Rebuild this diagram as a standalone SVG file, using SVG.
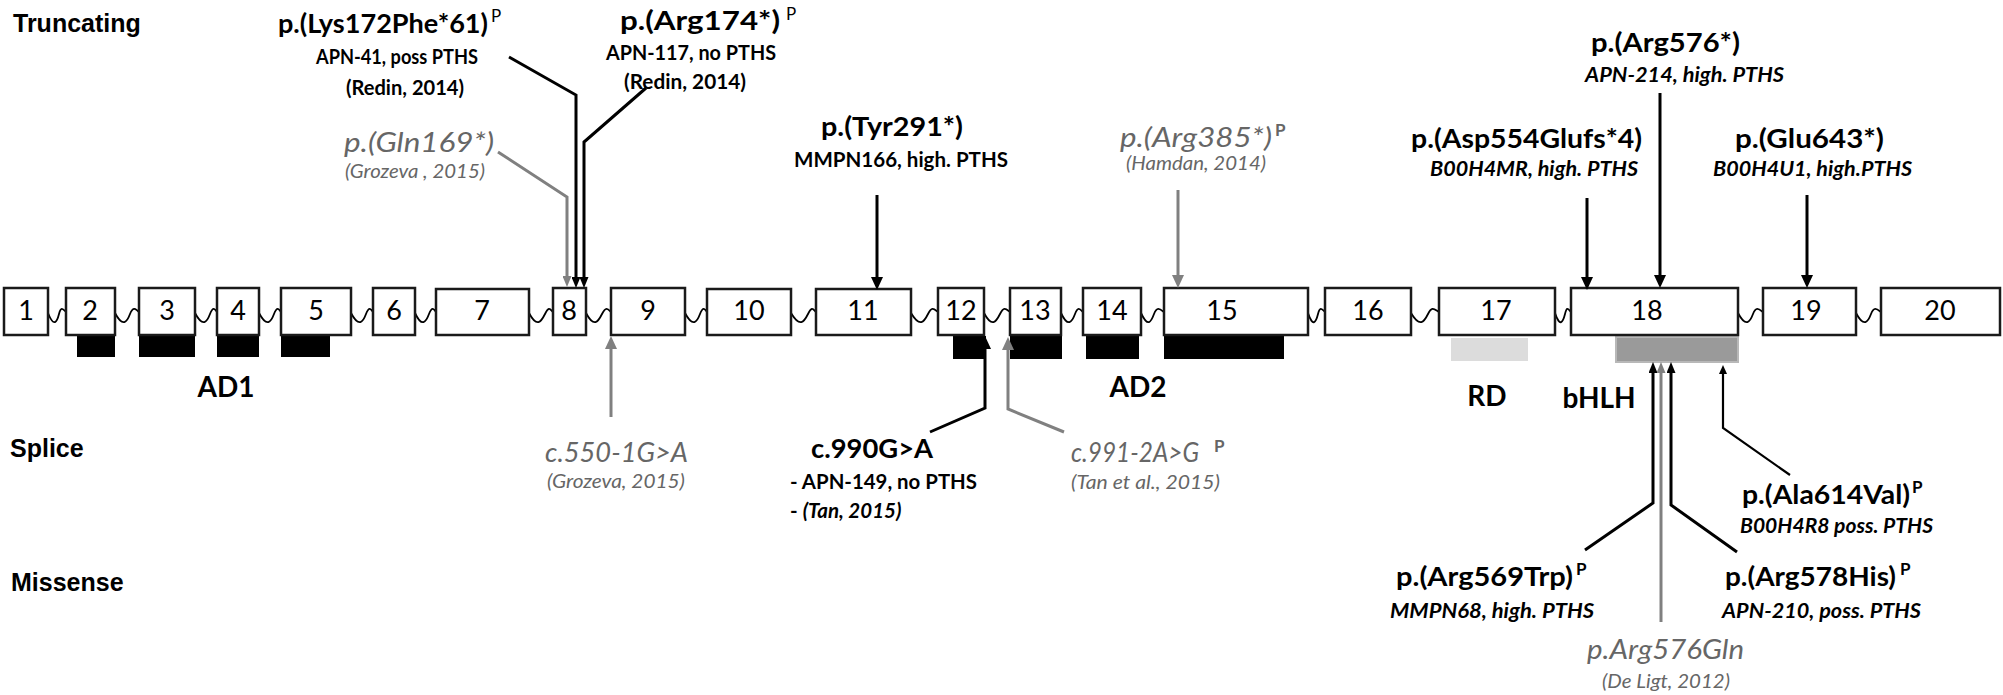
<svg xmlns="http://www.w3.org/2000/svg" width="2003" height="695" viewBox="0 0 2003 695">
<defs>
<style>
.sec{font-family:"Liberation Sans",Arial,sans-serif;font-weight:700;font-size:25px;fill:#000}
.t{font-family:Lato,"Open Sans",sans-serif;font-weight:700;font-size:27px;fill:#000}
.s{font-family:Lato,"Open Sans",sans-serif;font-weight:700;font-size:20.5px;fill:#000}
.si{font-family:Lato,"Open Sans",sans-serif;font-weight:700;font-style:italic;font-size:20.5px;fill:#000}
.g{font-family:Lato,"Open Sans",sans-serif;font-weight:400;font-style:italic;font-size:27px;fill:#666}
.gc{font-family:Lato,"Open Sans",sans-serif;font-weight:400;font-style:italic;font-size:19px;fill:#666}
.sup{font-family:Lato,"Open Sans",sans-serif;font-weight:400;font-size:17px;fill:#000}
.supb{font-family:Lato,"Open Sans",sans-serif;font-weight:700;font-size:17px;fill:#000}
.supg{font-family:Lato,"Open Sans",sans-serif;font-weight:700;font-size:17px;fill:#666}
.num{font-family:Lato,"Open Sans",sans-serif;font-weight:400;font-size:27px;fill:#000;text-anchor:middle}
.dom{font-family:Lato,"Open Sans",sans-serif;font-weight:700;font-size:28px;fill:#000;text-anchor:middle}
.ex{fill:#fff;stroke:#1a1a1a;stroke-width:2.5}
.intr{fill:none;stroke:#000;stroke-width:1.8}
.cb{fill:none;stroke:#000;stroke-width:3}
.ct{fill:none;stroke:#000;stroke-width:2.2}
.cg{fill:none;stroke:#808080;stroke-width:3}
</style>
<marker id="ab" viewBox="0 0 13 12" refX="1" refY="6" markerWidth="13" markerHeight="12" markerUnits="userSpaceOnUse" orient="auto"><path d="M0,0 L13,6 L0,12 z" fill="#000"/></marker>
<marker id="ag" viewBox="0 0 13 12" refX="1" refY="6" markerWidth="13" markerHeight="12" markerUnits="userSpaceOnUse" orient="auto"><path d="M0,0 L13,6 L0,12 z" fill="#808080"/></marker>
<marker id="abs" viewBox="0 0 11 9" refX="1" refY="4.5" markerWidth="11" markerHeight="9" markerUnits="userSpaceOnUse" orient="auto"><path d="M0,0 L11,4.5 L0,9 z" fill="#000"/></marker>
<marker id="ags" viewBox="0 0 11 9" refX="1" refY="4.5" markerWidth="11" markerHeight="9" markerUnits="userSpaceOnUse" orient="auto"><path d="M0,0 L11,4.5 L0,9 z" fill="#808080"/></marker>
<marker id="at" viewBox="0 0 9 8" refX="1" refY="4" markerWidth="9" markerHeight="8" markerUnits="userSpaceOnUse" orient="auto"><path d="M0,0 L9,4 L0,8 z" fill="#000"/></marker>
</defs>
<rect width="2003" height="695" fill="#fff"/>

<g id="section-labels">
<text class="sec" x="13" y="32">Truncating</text>
<text class="sec" x="10" y="457">Splice</text>
<text class="sec" x="11" y="591">Missense</text>
</g>

<g id="introns">
<path class="intr" d="M48,313 C54,328 57,322 59,314 S63,309 66,312"/>
<path class="intr" d="M115,313 C123,328 127,322 130,314 S136,309 139,312"/>
<path class="intr" d="M195,313 C203,328 207,322 210,314 S215,309 217,312"/>
<path class="intr" d="M259,313 C267,328 271,322 274,314 S279,309 281,312"/>
<path class="intr" d="M351,313 C359,328 363,322 366,314 S371,309 373,312"/>
<path class="intr" d="M415,313 C422,328 426,322 429,314 S434,309 436,312"/>
<path class="intr" d="M529,313 C537,328 541,322 545,314 S550,309 553,312"/>
<path class="intr" d="M586,313 C594,328 598,322 602,314 S608,309 611,312"/>
<path class="intr" d="M685,313 C693,328 697,322 700,314 S705,309 707,312"/>
<path class="intr" d="M791,313 C800,328 804,322 808,314 S813,309 816,312"/>
<path class="intr" d="M911,313 C920,328 924,322 928,314 S934,309 938,312"/>
<path class="intr" d="M984,313 C992,328 996,322 1000,314 S1006,309 1010,312"/>
<path class="intr" d="M1061,313 C1068,328 1072,322 1075,314 S1080,309 1083,312"/>
<path class="intr" d="M1141,313 C1148,328 1151,322 1154,314 S1160,309 1164,312"/>
<path class="intr" d="M1308,313 C1313,328 1316,322 1318,314 S1322,309 1325,312"/>
<path class="intr" d="M1411,313 C1420,328 1424,322 1428,314 S1434,309 1439,312"/>
<path class="intr" d="M1555,313 C1560,328 1563,322 1565,314 S1568,309 1571,312"/>
<path class="intr" d="M1738,313 C1746,328 1750,322 1753,314 S1759,309 1763,312"/>
<path class="intr" d="M1856,313 C1864,328 1868,322 1871,314 S1877,309 1881,312"/>
</g>

<g id="domains">
<g id="AD1"><rect x="77" y="335" width="38" height="22" fill="#000"/><rect x="139" y="335" width="56" height="22" fill="#000"/><rect x="217" y="335" width="42" height="22" fill="#000"/><rect x="281" y="335" width="49" height="22" fill="#000"/><text class="dom" x="226" y="397">AD1</text></g>
<g id="AD2"><rect x="953" y="336" width="33" height="23" fill="#000"/><rect x="1010" y="336" width="52" height="23" fill="#000"/><rect x="1086" y="336" width="53" height="23" fill="#000"/><rect x="1164" y="336" width="120" height="23" fill="#000"/><text class="dom" x="1138" y="397">AD2</text></g>
<g id="RD"><rect x="1451" y="338" width="77" height="23" fill="#dcdcdc"/><text class="dom" x="1487" y="406">RD</text></g>
<g id="bHLH"><rect x="1616" y="337" width="122" height="25" fill="#9a9a9a" stroke="#b8b8b8" stroke-width="2"/><text class="dom" x="1599" y="408">bHLH</text></g>
</g>

<g id="exons">
<g id="exon1"><rect class="ex" x="4" y="288" width="44" height="47"/><text class="num" x="26" y="320">1</text></g>
<g id="exon2"><rect class="ex" x="66" y="288" width="49" height="47"/><text class="num" x="90" y="320">2</text></g>
<g id="exon3"><rect class="ex" x="139" y="288" width="56" height="47"/><text class="num" x="167" y="320">3</text></g>
<g id="exon4"><rect class="ex" x="217" y="288" width="42" height="47"/><text class="num" x="238" y="320">4</text></g>
<g id="exon5"><rect class="ex" x="281" y="288" width="70" height="47"/><text class="num" x="316" y="320">5</text></g>
<g id="exon6"><rect class="ex" x="373" y="288" width="42" height="47"/><text class="num" x="394" y="320">6</text></g>
<g id="exon7"><rect class="ex" x="436" y="289" width="93" height="46"/><text class="num" x="482" y="320">7</text></g>
<g id="exon8"><rect class="ex" x="553" y="288" width="33" height="47"/><text class="num" x="569" y="320">8</text></g>
<g id="exon9"><rect class="ex" x="611" y="288" width="74" height="47"/><text class="num" x="648" y="320">9</text></g>
<g id="exon10"><rect class="ex" x="707" y="289" width="84" height="46"/><text class="num" x="749" y="320">10</text></g>
<g id="exon11"><rect class="ex" x="816" y="289" width="95" height="46"/><text class="num" x="863" y="320">11</text></g>
<g id="exon12"><rect class="ex" x="938" y="288" width="46" height="47"/><text class="num" x="961" y="320">12</text></g>
<g id="exon13"><rect class="ex" x="1010" y="288" width="51" height="47"/><text class="num" x="1035" y="320">13</text></g>
<g id="exon14"><rect class="ex" x="1083" y="288" width="58" height="47"/><text class="num" x="1112" y="320">14</text></g>
<g id="exon15"><rect class="ex" x="1164" y="288" width="144" height="47"/><text class="num" x="1222" y="320">15</text></g>
<g id="exon16"><rect class="ex" x="1325" y="288" width="86" height="47"/><text class="num" x="1368" y="320">16</text></g>
<g id="exon17"><rect class="ex" x="1439" y="288" width="116" height="47"/><text class="num" x="1496" y="320">17</text></g>
<g id="exon18"><rect class="ex" x="1571" y="288" width="167" height="47"/><text class="num" x="1647" y="320">18</text></g>
<g id="exon19"><rect class="ex" x="1763" y="288" width="93" height="47"/><text class="num" x="1806" y="320">19</text></g>
<g id="exon20"><rect class="ex" x="1881" y="288" width="119" height="47"/><text class="num" x="1940" y="320">20</text></g>
</g>

<g id="connectors">
<path class="cg" d="M498,152 L567,197 L567,277" marker-end="url(#ags)"/>
<path class="cb" d="M509,57 L576,95 L576,278" marker-end="url(#abs)"/>
<path class="cb" d="M646,88 L584,142 L584,278" marker-end="url(#abs)"/>
<path class="cb" d="M877,195 L877,278" marker-end="url(#ab)"/>
<path class="cg" d="M1178,190 L1178,276" marker-end="url(#ag)"/>
<path class="cb" d="M1587,198 L1587,278" marker-end="url(#ab)"/>
<path class="cb" d="M1660,93 L1660,276" marker-end="url(#ab)"/>
<path class="cb" d="M1807,195 L1807,276" marker-end="url(#ab)"/>
<path class="cg" d="M611,417 L611,348" marker-end="url(#ag)"/>
<path class="cb" d="M930,432 L985,408 L985,348" marker-end="url(#ab)"/>
<path class="cg" d="M1064,432 L1008,409 L1008,349" marker-end="url(#ag)"/>
<path class="cb" d="M1585,550 L1653,503 L1653,372" marker-end="url(#abs)"/>
<path class="cg" d="M1661,622 L1661,372" marker-end="url(#ags)"/>
<path class="cb" d="M1737,552 L1671,505 L1671,372" marker-end="url(#abs)"/>
<path class="ct" d="M1790,475 L1723,428 L1723,373" marker-end="url(#at)"/>
</g>

<g id="trunc-Lys172Phe61">
<text class="t" x="278" y="33" textLength="210" lengthAdjust="spacingAndGlyphs">p.(Lys172Phe*61)</text>
<text class="sup" x="491" y="22">P</text>
<text class="s" x="316" y="64" textLength="162" lengthAdjust="spacingAndGlyphs">APN-41, poss PTHS</text>
<text class="s" x="346" y="95" textLength="118" lengthAdjust="spacingAndGlyphs">(Redin, 2014)</text>
</g>
<g id="trunc-Arg174">
<text class="t" x="620" y="30" textLength="160" lengthAdjust="spacingAndGlyphs">p.(Arg174*)</text>
<text class="sup" x="786" y="20">P</text>
<text class="s" x="606" y="60" textLength="170" lengthAdjust="spacingAndGlyphs">APN-117, no PTHS</text>
<text class="s" x="624" y="89" textLength="122" lengthAdjust="spacingAndGlyphs">(Redin, 2014)</text>
</g>
<g id="trunc-Gln169">
<text class="g" x="344" y="152" textLength="150" lengthAdjust="spacingAndGlyphs">p.(Gln169*)</text>
<text class="gc" x="345" y="178" textLength="140" lengthAdjust="spacingAndGlyphs">(Grozeva , 2015)</text>
</g>
<g id="trunc-Tyr291">
<text class="t" x="821" y="136" textLength="142" lengthAdjust="spacingAndGlyphs">p.(Tyr291*)</text>
<text class="s" x="794" y="167" textLength="214" lengthAdjust="spacingAndGlyphs">MMPN166, high. PTHS</text>
</g>
<g id="trunc-Arg385">
<text class="g" x="1120" y="147" textLength="152" lengthAdjust="spacingAndGlyphs">p.(Arg385*)</text>
<text class="supg" x="1275" y="136">P</text>
<text class="gc" x="1126" y="170" textLength="140" lengthAdjust="spacingAndGlyphs">(Hamdan, 2014)</text>
</g>
<g id="trunc-Asp554Glufs4">
<text class="t" x="1411" y="148" textLength="231" lengthAdjust="spacingAndGlyphs">p.(Asp554Glufs*4)</text>
<text class="si" x="1430" y="176" textLength="208" lengthAdjust="spacingAndGlyphs">B00H4MR, high. PTHS</text>
</g>
<g id="trunc-Arg576">
<text class="t" x="1591" y="52" textLength="149" lengthAdjust="spacingAndGlyphs">p.(Arg576*)</text>
<text class="si" x="1585" y="82" textLength="199" lengthAdjust="spacingAndGlyphs">APN-214, high. PTHS</text>
</g>
<g id="trunc-Glu643">
<text class="t" x="1735" y="148" textLength="149" lengthAdjust="spacingAndGlyphs">p.(Glu643*)</text>
<text class="si" x="1713" y="176" textLength="199" lengthAdjust="spacingAndGlyphs">B00H4U1, high.PTHS</text>
</g>

<g id="splice-c550-1GA">
<text class="g" x="545" y="462" textLength="143" lengthAdjust="spacingAndGlyphs">c.550-1G&gt;A</text>
<text class="gc" x="547" y="488" textLength="138" lengthAdjust="spacingAndGlyphs">(Grozeva, 2015)</text>
</g>
<g id="splice-c990GA">
<text class="t" x="811" y="458" textLength="122" lengthAdjust="spacingAndGlyphs">c.990G&gt;A</text>
<text class="s" x="790" y="489" textLength="187" lengthAdjust="spacingAndGlyphs">- APN-149, no PTHS</text>
<text class="s" x="790" y="518">- <tspan class="si">(Tan, 2015)</tspan></text>
</g>
<g id="splice-c991-2AG">
<text class="g" x="1071" y="462" textLength="128" lengthAdjust="spacingAndGlyphs">c.991-2A&gt;G</text>
<text class="supg" x="1214" y="452">P</text>
<text class="gc" x="1071" y="489" textLength="149" lengthAdjust="spacingAndGlyphs">(Tan et al., 2015)</text>
</g>

<g id="mis-Ala614Val">
<text class="t" x="1742" y="504" textLength="168" lengthAdjust="spacingAndGlyphs">p.(Ala614Val)</text>
<text class="supb" x="1912" y="493">P</text>
<text class="si" x="1740" y="533" textLength="193" lengthAdjust="spacingAndGlyphs">B00H4R8 poss. PTHS</text>
</g>
<g id="mis-Arg569Trp">
<text class="t" x="1396" y="586" textLength="177" lengthAdjust="spacingAndGlyphs">p.(Arg569Trp)</text>
<text class="supb" x="1576" y="575">P</text>
<text class="si" x="1390" y="618" textLength="204" lengthAdjust="spacingAndGlyphs">MMPN68, high. PTHS</text>
</g>
<g id="mis-Arg578His">
<text class="t" x="1725" y="586" textLength="171" lengthAdjust="spacingAndGlyphs">p.(Arg578His)</text>
<text class="supb" x="1900" y="575">P</text>
<text class="si" x="1722" y="618" textLength="199" lengthAdjust="spacingAndGlyphs">APN-210, poss. PTHS</text>
</g>
<g id="mis-Arg576Gln">
<text class="g" x="1587" y="659" textLength="157" lengthAdjust="spacingAndGlyphs">p.Arg576Gln</text>
<text class="gc" x="1602" y="688" textLength="128" lengthAdjust="spacingAndGlyphs">(De Ligt, 2012)</text>
</g>
</svg>
